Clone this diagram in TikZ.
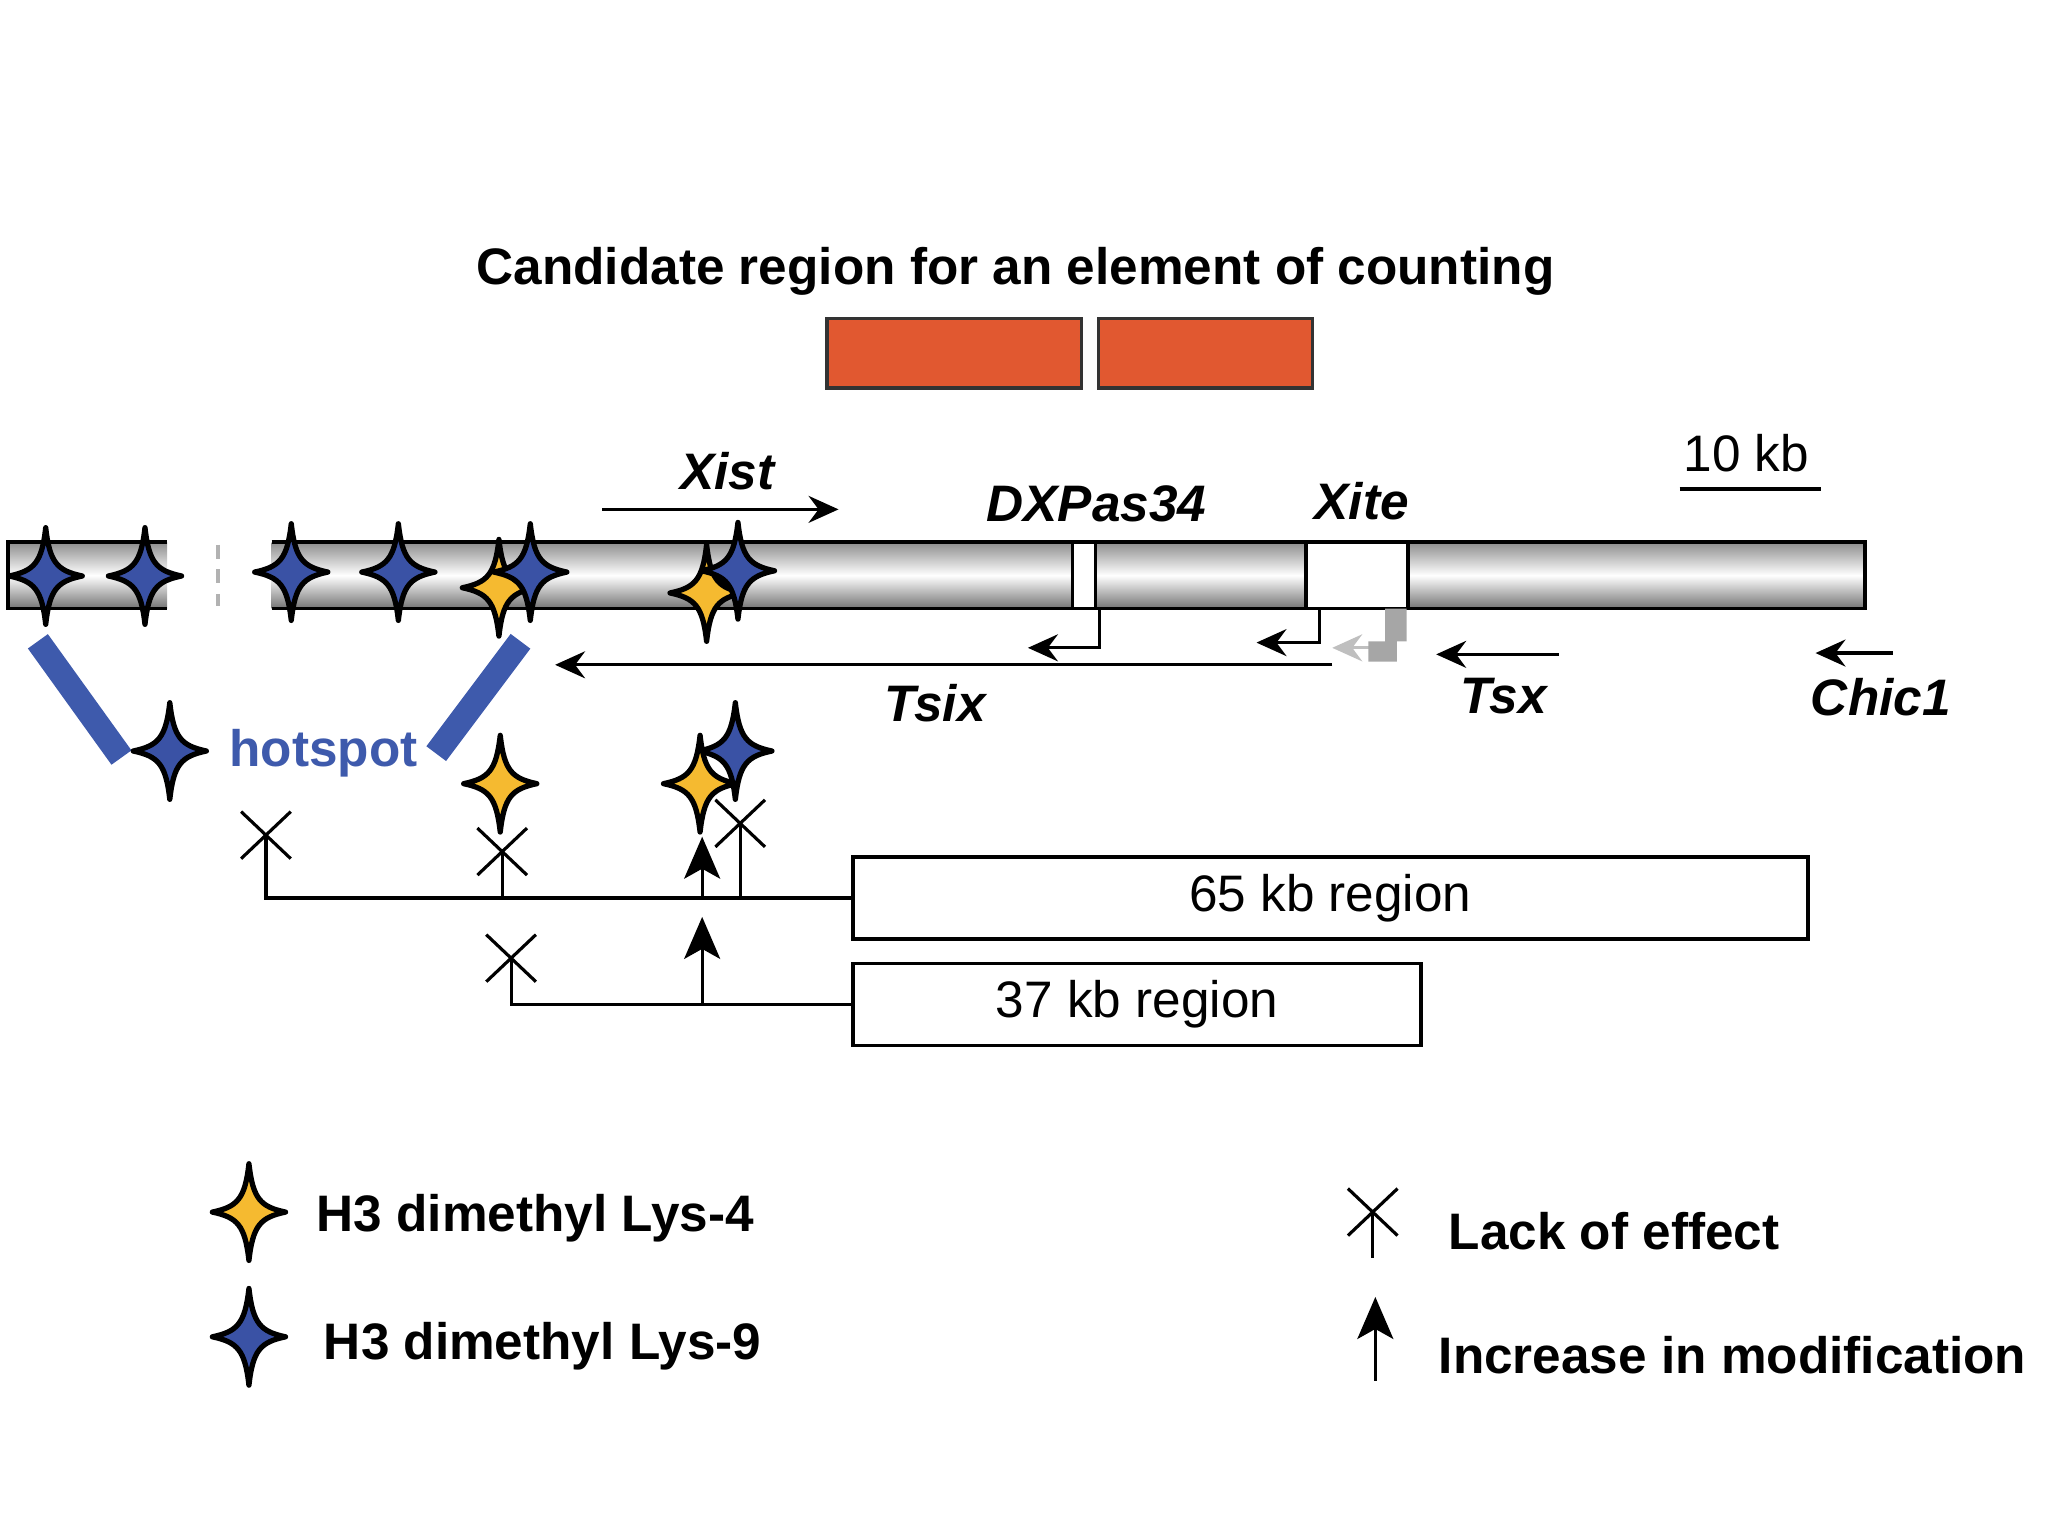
\documentclass[tikz,border=0pt]{standalone}
\usepackage{fontspec}
\setmainfont{Liberation Sans}
\usetikzlibrary{arrows.meta}

\definecolor{lysnine}{RGB}{58,82,165}
\definecolor{lysfour}{RGB}{245,186,48}
\definecolor{hotblue}{RGB}{62,90,172}
\definecolor{candred}{RGB}{225,88,48}

\tikzset{
  hstar/.pic={
    \draw[line width=1.5pt, line join=round, fill=#1]
      (0,-37) .. controls (3,-10) and (9,-4) .. (28,0)
      .. controls (9,4) and (3,10) .. (0,37)
      .. controls (-3,10) and (-9,4) .. (-28,0)
      .. controls (-9,-4) and (-3,-10) .. (0,-37) -- cycle;
  },
  nox/.pic={
    \draw[line width=0.9pt] (-19,-18) -- (19,18) (-19,18) -- (19,-18);
  }
}

\begin{document}
\begin{tikzpicture}[x=0.01306cm, y=-0.01306cm,
    lbl/.style={inner sep=0pt, font=\fontsize{14.6}{17}\selectfont\bfseries},
    gene/.style={inner sep=0pt, anchor=base, font=\fontsize{14.6}{17}\selectfont\bfseries\itshape},
    plain/.style={inner sep=0pt, font=\fontsize{14.6}{17}\selectfont},
    regionbox/.style={draw, line width=1pt, minimum height=0.82cm, inner sep=0pt, font=\fontsize{14.6}{17}\selectfont},
    conn/.style={line width=0.9pt},
    incr/.style={-{Stealth[length=0.42cm,width=0.36cm,inset=0.1cm]}},
    tx/.style={line width=0.9pt, -{Stealth[length=0.3cm,width=0.27cm,inset=0.1cm]}},
    chrom/.style={top color=black!45, bottom color=black!55, middle color=white}]

    \useasboundingbox (0,0) rectangle (1568,1176);

    % Candidate region
    \node[lbl, anchor=base] (title) at (777.5,218) {Candidate region for an element of counting};
    \draw[line width=1pt, draw=black!80, fill=candred] (633,244) rectangle (828,297);
    \draw[line width=1pt, draw=black!80, fill=candred] (841,244) rectangle (1005,297);

    % Scale bar
    \node[plain, anchor=base] (scale) at (1337,361) {10 kb};
    \draw[line width=1pt] (1286,374.5) -- (1394,374.5);

    % Chromosome
    \shade[chrom] (6,415) rectangle (128,466);
    \shade[chrom] (208,415) rectangle (1428,466);
    \fill[white] (821,415) rectangle (838.6,466);
    \fill[white] (1000,415) rectangle (1078,466);
    \draw[line width=1pt] (128,415) -- (6,415) -- (6,466) -- (128,466);
    \draw[line width=1pt] (208,415) -- (1428,415) -- (1428,466) -- (208,466);
    \draw[line width=1pt] (821,415) -- (821,466) (838.6,415) -- (838.6,466)
        (1000,415) -- (1000,466) (1078,415) -- (1078,466);
    \draw[gray!60, line width=1.3pt, dash pattern=on 4pt off 3pt] (167,417) -- (167,464);

    % Transcripts
    \draw[tx] (461,390) -- (642,390);
    \node[gene] (xist) at (557,375) {Xist};
    \node[gene] (dxpas) at (839.5,399.5) {DXPas34};
    \node[gene] (xite) at (1042.5,398) {Xite};
    \draw[tx] (1020,509) -- (425,509);
    \node[gene] (tsix) at (716,552.5) {Tsix};
    \draw[tx] (841.5,466) -- (841.5,496) -- (787,496);
    \draw[tx] (1010,466) -- (1010,492) -- (962,492);
    \draw[tx, gray!50] (1048,496) -- (1020,496);
    \fill[gray!70] (1060.5,466) -- (1077,466) -- (1077,491) -- (1069.4,491)
        -- (1069.4,506.6) -- (1047.6,506.6) -- (1047.6,491) -- (1060.5,491) -- cycle;
    \draw[tx] (1193.5,501) -- (1099.6,501);
    \node[gene] (tsx) at (1151,546) {Tsx};
    \draw[tx] (1449,500) -- (1390,500);
    \node[gene] (chic) at (1440,547.5) {Chic1};

    % Hotspot
    \draw[hotblue, line width=7pt] (29,491) -- (93,580);
    \draw[hotblue, line width=7pt] (398.5,491) -- (334,577);
    \node[lbl, text=hotblue, anchor=base] (hot) at (247.6,587) {hotspot};

    % Marks on the chromosome
    \foreach \px/\py in {35/441, 111/441, 223/438, 305/438}
        \pic at (\px,\py) {hstar=lysnine};
    \pic at (382,450) {hstar=lysfour};
    \pic at (406,438) {hstar=lysnine};
    \pic at (541,454) {hstar=lysfour};
    \pic at (565,437) {hstar=lysnine};

    % Marks after deletion
    \pic at (130,575) {hstar=lysnine};
    \pic at (383,600) {hstar=lysfour};
    \pic at (563,575) {hstar=lysnine};
    \pic at (536,600) {hstar=lysfour};

    % Deleted regions and their effects
    \node[regionbox, minimum width=9.55cm] (r65) at (1018.5,687.5) {65 kb region};
    \node[regionbox, minimum width=5.68cm] (r37) at (870.5,769) {37 kb region};
    \coordinate (x1) at (203.6,639.4);
    \coordinate (x2) at (384.5,652);
    \coordinate (a1) at (537.6,640.6);
    \coordinate (x3) at (566.7,630.4);
    \coordinate (x4) at (391.3,733.6);
    \coordinate (a2) at (537.6,702);
    \draw[conn] (r65.west) -| (x1);
    \draw[conn] (x2 |- r65.west) -- (x2);
    \draw[conn, incr] (a1 |- r65.west) -- (a1);
    \draw[conn] (x3 |- r65.west) -- (x3);
    \draw[conn] (r37.west) -| (x4);
    \draw[conn, incr] (a2 |- r37.west) -- (a2);
    \foreach \c in {x1, x2, x3, x4}
        \pic at (\c) {nox};

    % Legend
    \pic at (190.6,928) {hstar=lysfour};
    \node[lbl, anchor=base west] (lysA) at (242,943) {H3 dimethyl Lys-4};
    \pic at (190.6,1023.5) {hstar=lysnine};
    \node[lbl, anchor=base west] (lysB) at (247.5,1041) {H3 dimethyl Lys-9};
    \coordinate (lx) at (1051,928);
    \draw[conn] (1051,963) -- (lx);
    \pic at (lx) {nox};
    \node[lbl, anchor=base west] (lack) at (1108.6,957) {Lack of effect};
    \draw[conn, incr] (1053,1057) -- (1053,993);
    \node[lbl, anchor=base west] (more) at (1101,1051.4) {Increase in modification};
\end{tikzpicture}
\end{document}
